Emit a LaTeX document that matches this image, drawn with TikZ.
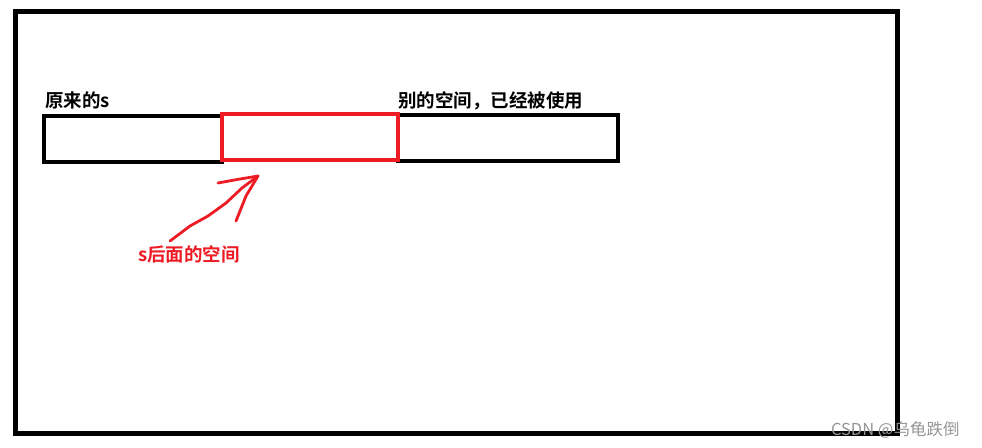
\documentclass[tikz,border=0pt]{standalone}
\usepackage{fontspec}
\setmainfont{Noto Sans CJK SC}
\newfontfamily\cjkbold{Noto Sans CJK SC Bold}
\usetikzlibrary{positioning}

\begin{document}
\begin{tikzpicture}[x=1pt, y=-1pt,
		every node/.style = {inner sep=0pt, outer sep=0pt},
		cell/.style = {draw=black, line width=4pt, minimum height=46pt},
		freecell/.style = {cell, draw={rgb,255:red,237;green,28;blue,36}},
		label/.style = {font=\cjkbold\fontsize{18.5}{18.5}\selectfont, anchor=base west},
		scribble/.style = {draw={rgb,255:red,237;green,28;blue,36}, line width=2.8pt, line cap=round, line join=round}]
		
		\useasboundingbox (0,0) rectangle (982,447);
		\node[draw, line width=4.5pt, minimum width=882pt, minimum height=422pt] (frame) at (456.3,222.7) {};
		
		% the three blocks of memory
		\node[cell, minimum width=178pt] (old) at (133,138.5) {};
		\node[cell, minimum width=220pt] (used) at (508,138) {};
		\node[freecell, minimum width=176pt] (free) at (310,137) {};
		
		\node[label] (oldtext) at (45,107) {原来的s};
		\node[label] (usedtext) at (398,107) {别的空间，已经被使用};
		\node[label, text={rgb,255:red,237;green,28;blue,36}] (freetext) at (138,261) {s后面的空间};
		
		% hand drawn arrow
		\coordinate (tip) at (258,176);
		\coordinate (tail) at (170,241);
		\coordinate (barbA) at (218,183);
		\coordinate (barbB) at (236,221);
		\draw[scribble] (tail) -- (190,226) -- (208,216) -- (226,203) -- (242,188) -- (tip);
		\draw[scribble] (barbA) -- (240,179) -- (tip);
		\draw[scribble] (barbB) -- (246,196) -- (tip);
		
		\node[anchor=base west, text={rgb,255:red,150;green,150;blue,150}, font=\fontsize{16.5}{16.5}\selectfont] (mark) at (831,435) {CSDN @乌龟跌倒};
	\end{tikzpicture}
\end{document}
